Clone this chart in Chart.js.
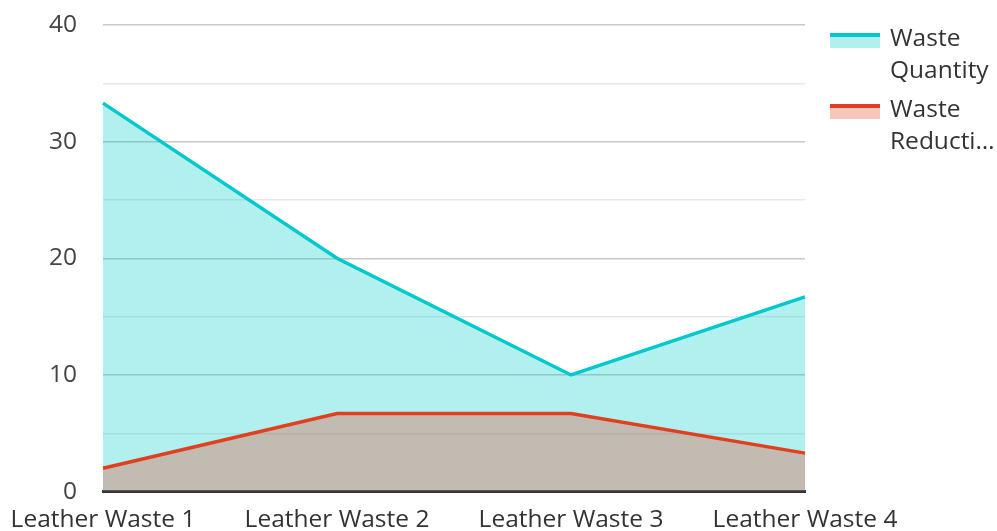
<!DOCTYPE html>
<html>
<head>
<meta charset="utf-8">
<script src="https://cdn.jsdelivr.net/npm/chart.js@4.4.0/dist/chart.umd.min.js"></script>
<style>
  html, body { margin: 0; padding: 0; background: #fff; }
  #wrap { position: relative; width: 997px; height: 531px; overflow: hidden; }
  #chart { display: block; }
  #legend { position: absolute; left: 830px; top: 21px; font-family: "Open Sans", sans-serif; font-size: 24.5px; line-height: 32px; color: #333; }
  .item { position: relative; padding-left: 60px; margin-bottom: 7px; }
  .swatch { position: absolute; left: 0; top: 12px; width: 50px; height: 11px; border-top: 4px solid; }
</style>
</head>
<body>
<div id="wrap">
  <canvas id="chart" width="997" height="549"></canvas>
  <div id="legend"></div>
</div>
<script>
const categories = ['Leather Waste 1', 'Leather Waste 2', 'Leather Waste 3', 'Leather Waste 4'];
const wasteQuantity = [33.3, 20, 10, 16.7];
const wasteReduction = [2, 6.7, 6.7, 3.3];
const legendLines = [['Waste', 'Quantity'], ['Waste', 'Reducti…']];

const cyan = '#00C8CC';
const red = '#E0401E';
const fontSize = 24.5;

const ctx = document.getElementById('chart').getContext('2d');

new Chart(ctx, {
    type: 'line',
    data: {
        labels: categories,
        datasets: [{
            label: 'Waste Quantity',
            data: wasteQuantity,
            borderColor: cyan,
            backgroundColor: 'rgba(0, 204, 206, 0.3)',
            borderWidth: 3.5,
            fill: 'origin',
            pointRadius: 0,
            tension: 0,
            order: 2
        }, {
            label: 'Waste Reduction',
            data: wasteReduction,
            borderColor: red,
            backgroundColor: 'rgba(224, 64, 30, 0.3)',
            borderWidth: 3.5,
            fill: 'origin',
            pointRadius: 0,
            tension: 0,
            order: 1
        }]
    },
    options: {
        responsive: false,
        animation: false,
        layout: { padding: { left: 0, right: 192, top: 0, bottom: 0 } },
        plugins: {
            legend: { display: false },
            tooltip: { enabled: false }
        },
        scales: {
            x: {
                offset: false,
                grid: { display: false, drawTicks: false },
                border: { display: true, color: '#333', width: 3 },
                ticks: {
                    color: '#333',
                    padding: 14,
                    maxRotation: 0,
                    autoSkip: false,
                    font: { family: 'Open Sans', size: fontSize }
                },
                afterFit: (scale) => {
                    scale.paddingLeft = 0;
                    scale.paddingRight = 0;
                }
            },
            y: {
                min: 0,
                max: 40,
                border: { display: false },
                grid: {
                    drawTicks: false,
                    color: (c) => c.tick && c.tick.value % 10 === 0 ? '#c8c8c8' : '#e8e8e8',
                    lineWidth: 1.5
                },
                ticks: {
                    stepSize: 5,
                    padding: 26,
                    color: '#444',
                    font: { family: 'Open Sans', size: fontSize },
                    callback: (v) => v % 10 === 0 ? v : ''
                },
                afterFit: (scale) => {
                    scale.width = 103;
                    scale.paddingTop = 25;
                    scale.paddingBottom = 0;
                }
            }
        }
    }
});

const legendEl = document.getElementById('legend');
const colors = [[cyan, 'rgba(0, 204, 206, 0.3)'], [red, 'rgba(224, 64, 30, 0.3)']];
legendLines.forEach((lines, i) => {
    const item = document.createElement('div');
    item.className = 'item';
    const sw = document.createElement('div');
    sw.className = 'swatch';
    sw.style.borderTopColor = colors[i][0];
    sw.style.background = colors[i][1];
    item.appendChild(sw);
    item.appendChild(document.createTextNode(lines[0]));
    item.appendChild(document.createElement('br'));
    item.appendChild(document.createTextNode(lines[1]));
    legendEl.appendChild(item);
});
</script>
</body>
</html>
